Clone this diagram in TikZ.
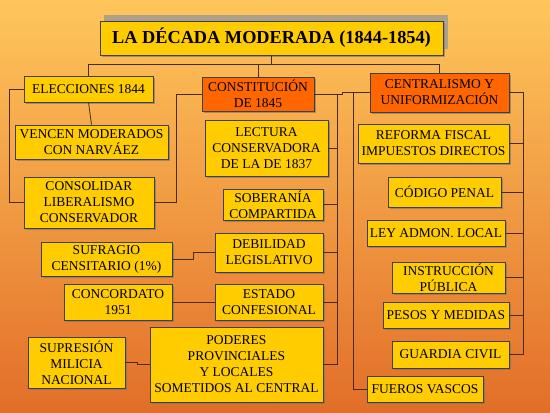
\documentclass[tikz,border=0pt]{standalone}
\usepackage{fontspec}
\setmainfont{Liberation Serif}
\usetikzlibrary{shadows}
\definecolor{bgtop}{RGB}{255,198,92}
\definecolor{bgbot}{RGB}{226,110,40}
\definecolor{boxy}{RGB}{255,204,0}
\definecolor{boxo}{RGB}{255,102,0}
\definecolor{lin}{RGB}{70,45,25}
\tikzset{
  ybox/.style={draw=black!75, line width=0.7pt, fill=boxy, inner sep=0pt, align=center,
    font=\fontsize{13.5}{16}\selectfont,
    drop shadow={shadow xshift=2pt, shadow yshift=-2pt, fill=black!55, opacity=0.6}},
  obox/.style={ybox, fill=boxo},
  conn/.style={draw=lin, line width=0.8pt},
}
\begin{document}
\begin{tikzpicture}[x=1pt,y=-1pt]
\shade[top color=bgtop, bottom color=bgbot] (0,0) rectangle (550,413);
\useasboundingbox (0,0) rectangle (550,413);
% title shadow
\fill[black!40, opacity=0.8] (104,15) rectangle (448,49);
\node[ybox, drop shadow={opacity=0}, minimum width=343pt, minimum height=34pt,
  font=\fontsize{18.3}{20}\selectfont\bfseries] (title) at (271.5,38) {LA DÉCADA MODERADA (1844-1854)};

\node[ybox, minimum width=129pt, minimum height=26pt] (elec) at (88.5,89) {ELECCIONES 1844};
\node[obox, minimum width=112pt, minimum height=34pt] (const) at (258,94) {CONSTITUCIÓN\\DE 1845};
\node[obox, minimum width=139pt, minimum height=39pt] (cent) at (439.5,92.5) {CENTRALISMO Y\\UNIFORMIZACIÓN};

\node[ybox, minimum width=153pt, minimum height=34pt] (vencen) at (91.5,142) {VENCEN MODERADOS\\CON NARVÁEZ};
\node[ybox, minimum width=130pt, minimum height=51pt] (consol) at (89,202.5) {CONSOLIDAR\\LIBERALISMO\\CONSERVADOR};

\node[ybox, minimum width=123pt, minimum height=56pt] (lectura) at (266.5,148) {LECTURA\\CONSERVADORA\\DE LA DE 1837};
\node[ybox, minimum width=100pt, minimum height=31pt] (sober) at (273,204.5) {SOBERANÍA\\COMPARTIDA};
\node[ybox, minimum width=108pt, minimum height=39pt] (debil) at (269,252.5) {DEBILIDAD\\LEGISLATIVO};
\node[ybox, minimum width=108pt, minimum height=36pt] (estado) at (269,302) {ESTADO\\CONFESIONAL};
\node[ybox, minimum width=173pt, minimum height=75pt] (poderes) at (236.5,364.5) {PODERES\\PROVINCIALES\\Y LOCALES\\SOMETIDOS AL CENTRAL};

\node[ybox, minimum width=131pt, minimum height=34pt] (sufragio) at (106.5,259) {SUFRAGIO\\CENSITARIO (1\%)};
\node[ybox, minimum width=108pt, minimum height=36pt] (concord) at (118,302) {CONCORDATO\\1951};
\node[ybox, minimum width=97pt, minimum height=51pt] (supres) at (76.5,362.5) {SUPRESIÓN\\MILICIA\\NACIONAL};

\node[ybox, minimum width=151pt, minimum height=39pt] (reforma) at (433.5,143.5) {REFORMA FISCAL\\IMPUESTOS DIRECTOS};
\node[ybox, minimum width=113pt, minimum height=30pt] (codigo) at (444.5,192) {CÓDIGO PENAL};
\node[ybox, minimum width=138pt, minimum height=26pt] (ley) at (436,233) {LEY ADMON. LOCAL};
\node[ybox, minimum width=113pt, minimum height=31pt] (instr) at (448.5,277.5) {INSTRUCCIÓN\\PÚBLICA};
\node[ybox, minimum width=126pt, minimum height=26pt] (pesos) at (446,315) {PESOS Y MEDIDAS};
\node[ybox, minimum width=117pt, minimum height=27pt] (guardia) at (450.5,354.5) {GUARDIA CIVIL};
\node[ybox, minimum width=116pt, minimum height=26pt] (fueros) at (425,389) {FUEROS VASCOS};

% connectors
\draw[conn] (title.south) -- ++(0,9) coordinate (tj);
\draw[conn] (elec.north) |- (tj) -| (cent.north);
\draw[conn] (const.north) -- (const.north |- tj);

\draw[conn] (elec.south) -- (vencen.north);
\draw[conn] (elec.west) -- ++(-14,0) |- (consol.west);
\draw[conn] (const.west) -- ++(-25,0) |- (consol.east);

\draw[conn] (const.east) -- ++(28,0) |- (cent.west);
\coordinate (cv) at (337,94);
\coordinate (fv) at (353,92.5);
\draw[conn] (cv) |- (poderes.east);
\foreach \n in {lectura,sober,debil,estado}
  \draw[conn] (\n.east) -- (\n.east -| cv);
\draw[conn] (fv) |- (fueros.west);

\draw[conn] (cent.east) -- ++(14,0) coordinate (rv) |- (guardia.east);
\foreach \n in {reforma,codigo,ley,instr,pesos}
  \draw[conn] (\n.east) -- (\n.east -| rv);

\draw[conn] (sufragio.east) -- ++(21,0) |- (debil.west);
\draw[conn] (concord.east) -- (estado.west);
\draw[conn] (supres.east) -- ++(12,0) |- (poderes.west);
\end{tikzpicture}
\end{document}
